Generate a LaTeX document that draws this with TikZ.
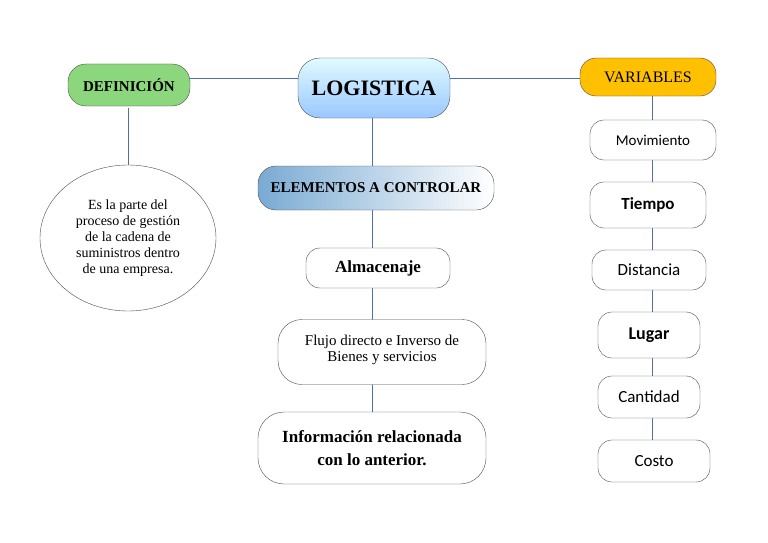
\documentclass[tikz,border=0pt]{standalone}
\usepackage{fontspec}
\setmainfont{Liberation Serif}
\newfontfamily\calib{Carlito}
\usetikzlibrary{shapes.geometric,shadings}
\definecolor{lnc}{RGB}{80,110,170}
\definecolor{grn}{RGB}{140,215,125}
\definecolor{org}{RGB}{255,192,0}
\begin{document}
\begin{tikzpicture}[x=1pt,y=-1pt,
  box/.style={draw=black!70,rounded corners=14pt,align=center,inner sep=0pt},
  ln/.style={draw=lnc,line width=0.8pt}]
\useasboundingbox (0,0) rectangle (768,543);
\fill[white] (0,0) rectangle (768,543);
% connectors
\draw[ln] (190,78) -- (298,78);
\draw[ln] (450,78) -- (580,78);
\draw[ln] (128,108) -- (128,166);
\draw[ln] (372,118) -- (372,166);
\draw[ln] (372,210) -- (372,412);
\draw[ln] (652,96) -- (652,482);
% nodes
\node[box,rounded corners=22pt,minimum width=152pt,minimum height=60pt,top color=blue!15!cyan!12,bottom color=cyan!45!blue!40,font=\bfseries\fontsize{22}{24}\selectfont] (log) at (374,88) {LOGISTICA};
\node[box,rounded corners=18pt,minimum width=122pt,minimum height=42pt,fill=grn,font=\bfseries\fontsize{15}{17}\selectfont] (def) at (129,85) {DEFINICIÓN};
\node[box,rounded corners=16pt,minimum width=136pt,minimum height=38pt,fill=org,font=\fontsize{16}{18}\selectfont] (var) at (648,77) {VARIABLES};
\node[draw=black!70,ellipse,minimum width=176pt,minimum height=146pt,align=center,font=\fontsize{14}{16}\selectfont,fill=white] (circ) at (128,238) {Es la parte del\\proceso de gestión\\de la cadena de\\suministros dentro\\de una empresa.};
\node[box,rounded corners=18pt,minimum width=236pt,minimum height=44pt,left color=blue!45!cyan!50!gray!70,right color=white,font=\bfseries\fontsize{15}{17}\selectfont] (ele) at (376,188) {ELEMENTOS A CONTROLAR};
\node[box,fill=white,minimum width=144pt,minimum height=40pt,font=\bfseries\fontsize{17}{19}\selectfont] (alm) at (378,268) {Almacenaje};
\node[box,rounded corners=24pt,fill=white,minimum width=208pt,minimum height=65pt,font=\fontsize{15}{19}\selectfont] (flu) at (382,352) {\raisebox{8pt}{\shortstack{Flujo directo e Inverso de\\Bienes y servicios}}};
\node[box,rounded corners=26pt,fill=white,minimum width=228pt,minimum height=72pt,font=\bfseries\fontsize{17}{23}\selectfont] (inf) at (372,448) {Información relacionada\\con lo anterior.};
\begin{scope}[every node/.append style={box,fill=white}]
\node[minimum width=126pt,minimum height=40pt,font=\calib\fontsize{15}{17}\selectfont] (mov) at (653,140) {Movimiento};
\node[minimum width=116pt,minimum height=46pt,font=\calib\bfseries\fontsize{17}{19}\selectfont] (tie) at (648,205) {\raisebox{-7pt}{Tiempo}};
\node[minimum width=114pt,minimum height=40pt,font=\calib\fontsize{17}{19}\selectfont] (dis) at (649,270) {Distancia};
\node[minimum width=102pt,minimum height=46pt,font=\calib\bfseries\fontsize{18}{20}\selectfont] (lug) at (649,335) {Lugar};
\node[minimum width=102pt,minimum height=42pt,font=\calib\fontsize{17}{19}\selectfont] (can) at (649,397) {Cantidad};
\node[minimum width=112pt,minimum height=42pt,font=\calib\fontsize{17}{19}\selectfont] (cos) at (654,461) {Costo};
\end{scope}
\end{tikzpicture}
\end{document}
